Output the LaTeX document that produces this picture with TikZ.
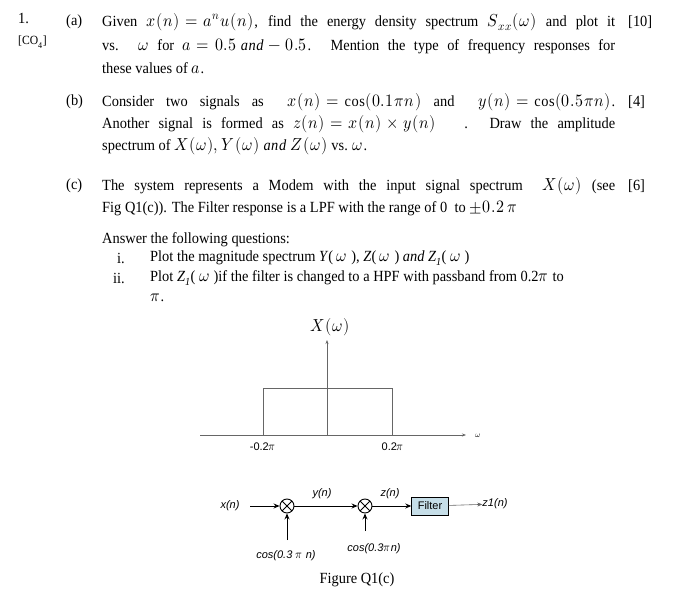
\documentclass[tikz,border=0pt]{standalone}
\usepackage{amsmath}
\usepackage{fontspec}
\usepackage{unicode-math}
\usetikzlibrary{arrows.meta}
\setmainfont{Liberation Serif}[FakeStretch=0.93]
\setsansfont{Liberation Sans}
\setmathfont{Latin Modern Math}[Scale=1.12,FakeStretch=0.92]
\newcommand{\jl}[1]{\makebox[513pt][s]{#1}}
\newcommand{\mm}[1]{\mbox{$#1$}}
\begin{document}
\begin{tikzpicture}[x=1pt,y=-1pt,
  txt/.style={anchor=west,inner sep=0pt,font=\fontsize{15.5}{17}\selectfont},
  sml/.style={inner sep=0pt,font=\sffamily\fontsize{11}{13}\selectfont},
  ita/.style={inner sep=0pt,font=\sffamily\itshape\fontsize{11}{13}\selectfont},
  ax/.style={draw=black!60,line width=0.6pt},
  sig/.style={draw,line width=0.9pt,-{Stealth[length=6pt,width=5pt]}},
  mult/.style={circle,draw,line width=0.9pt,minimum size=14pt,inner sep=0pt,path picture={\draw[line width=0.8pt] (path picture bounding box.south west)--(path picture bounding box.north east) (path picture bounding box.north west)--(path picture bounding box.south east);}}]
\useasboundingbox (0,0) rectangle (697,604);
\node[txt] (n1) at (18,18) {1.};
\node[txt,font=\fontsize{12.5}{14}\selectfont] (co) at (18,42) {[CO\textsubscript{4}]};
\node[txt] (la) at (66,22) {(a)};
\node[txt] (a1) at (102,22) {\jl{Given \mm{x(n)=a^nu(n)}, find the energy density spectrum \mm{S_{xx}(\omega)} and plot it}};
\node[txt] (a2) at (102,46) {\jl{vs. \mm{\omega} for \mm{a=0.5\mathit{\ and}-0.5}. Mention the type of frequency responses for}};
\node[txt] (a3) at (102,68) {these values of \mm{a}.};
\node[txt] (ma) at (628,22) {[10]};
\node[txt] (lb) at (66,102) {(b)};
\node[txt] (b1) at (102,102) {\jl{Consider two signals as \ \mm{x(n)=\cos(0.1\pi n)} and \ \mm{y(n)=\cos(0.5\pi n)}.}};
\node[txt] (b2) at (102,124) {\jl{Another signal is formed as \mm{z(n)=x(n)\times y(n)} \ \ . Draw the amplitude}};
\node[txt] (b3) at (102,146) {spectrum of \mm{X(\omega),Y(\omega)\mathit{\ and\ }Z(\omega)} vs. \mm{\omega}.};
\node[txt] (mb) at (628,102) {[4]};
\node[txt] (lc) at (66,186) {(c)};
\node[txt] (c1) at (102,186) {\jl{The system represents a Modem with the input signal spectrum \ \mm{X(\omega)} (see}};
\node[txt] (c2) at (102,208) {Fig Q1(c)). The Filter response is a LPF with the range of 0 \ to \mm{\pm0.2\,\pi}};
\node[txt] (mc) at (628,186) {[6]};
\node[txt] (q0) at (102,240) {Answer the following questions:};
\node[txt] (q1n) at (117,258) {i.};
\node[txt] (q1) at (150,258) {Plot the magnitude spectrum \textit{Y}( \mm{\omega} ), \textit{Z}( \mm{\omega} ) \textit{and Z\textsubscript{1}}( \mm{\omega} )};
\node[txt] (q2n) at (113,278) {ii.};
\node[txt] (q2) at (150,278) {Plot \textit{Z\textsubscript{1}}( \mm{\omega} )if the filter is changed to a HPF with passband from 0.2\mm{\pi} to};
\node[txt] (q3) at (150,298) {\mm{\pi}.};
% spectrum plot
\node[font=\fontsize{15.5}{17}\selectfont] (xw) at (330,327) {$X(\omega)$};
\coordinate (o) at (327,435);
\coordinate (top) at (327,340);
\coordinate (l) at (200,435);
\coordinate (r) at (466,435);
\draw[ax,-{Stealth[length=4pt,width=3pt]}] (o) -- (top);
\draw[ax,-{Stealth[length=4pt,width=3pt]}] (l) -- (r);
\draw[ax] (263,435) rectangle (392,388);
\node[font=\fontsize{7}{8}\selectfont] (w) at (478,436) {$\omega$};
\node[sml] (lm) at (263,447) {-0.2$\pi$};
\node[sml] (lp) at (393,447) {0.2$\pi$};
% block diagram
\node[ita] (x) at (230,506) {x(n)};
\node[mult] (m1) at (287,506) {};
\node[mult] (m2) at (365,506) {};
\node[draw,fill=cyan!25!teal!25,minimum width=37pt,minimum height=18pt,inner sep=0pt,font=\sffamily\fontsize{11}{13}\selectfont] (f) at (430,506) {Filter};
\node[ita] (z1) at (495,504) {z1(n)};
\node[ita] (c1l) at (286,556) {cos(0.3 $\pi$ n)};
\node[ita] (c2l) at (374,549) {cos(0.3$\pi$n)};
\node[ita] (yl) at (322,494) {y(n)};
\node[ita] (zl) at (390,494) {z(n)};
\coordinate (x1) at (250,506);
\coordinate (u1) at (287,540);
\coordinate (u2) at (365,531);
\draw[sig] (x1) -- (m1);
\draw[sig] (m1) -- (m2);
\draw[sig] (m2) -- (f);
\draw[sig] (u1) -- (m1);
\draw[sig] (u2) -- (m2);
\draw[draw=black!60,line width=0.6pt,-{Stealth[length=5pt,width=4pt]}] (f) -- (z1);
\node[font=\fontsize{15.5}{17}\selectfont] (cap) at (357,580) {Figure Q1(c)};
\end{tikzpicture}
\end{document}
